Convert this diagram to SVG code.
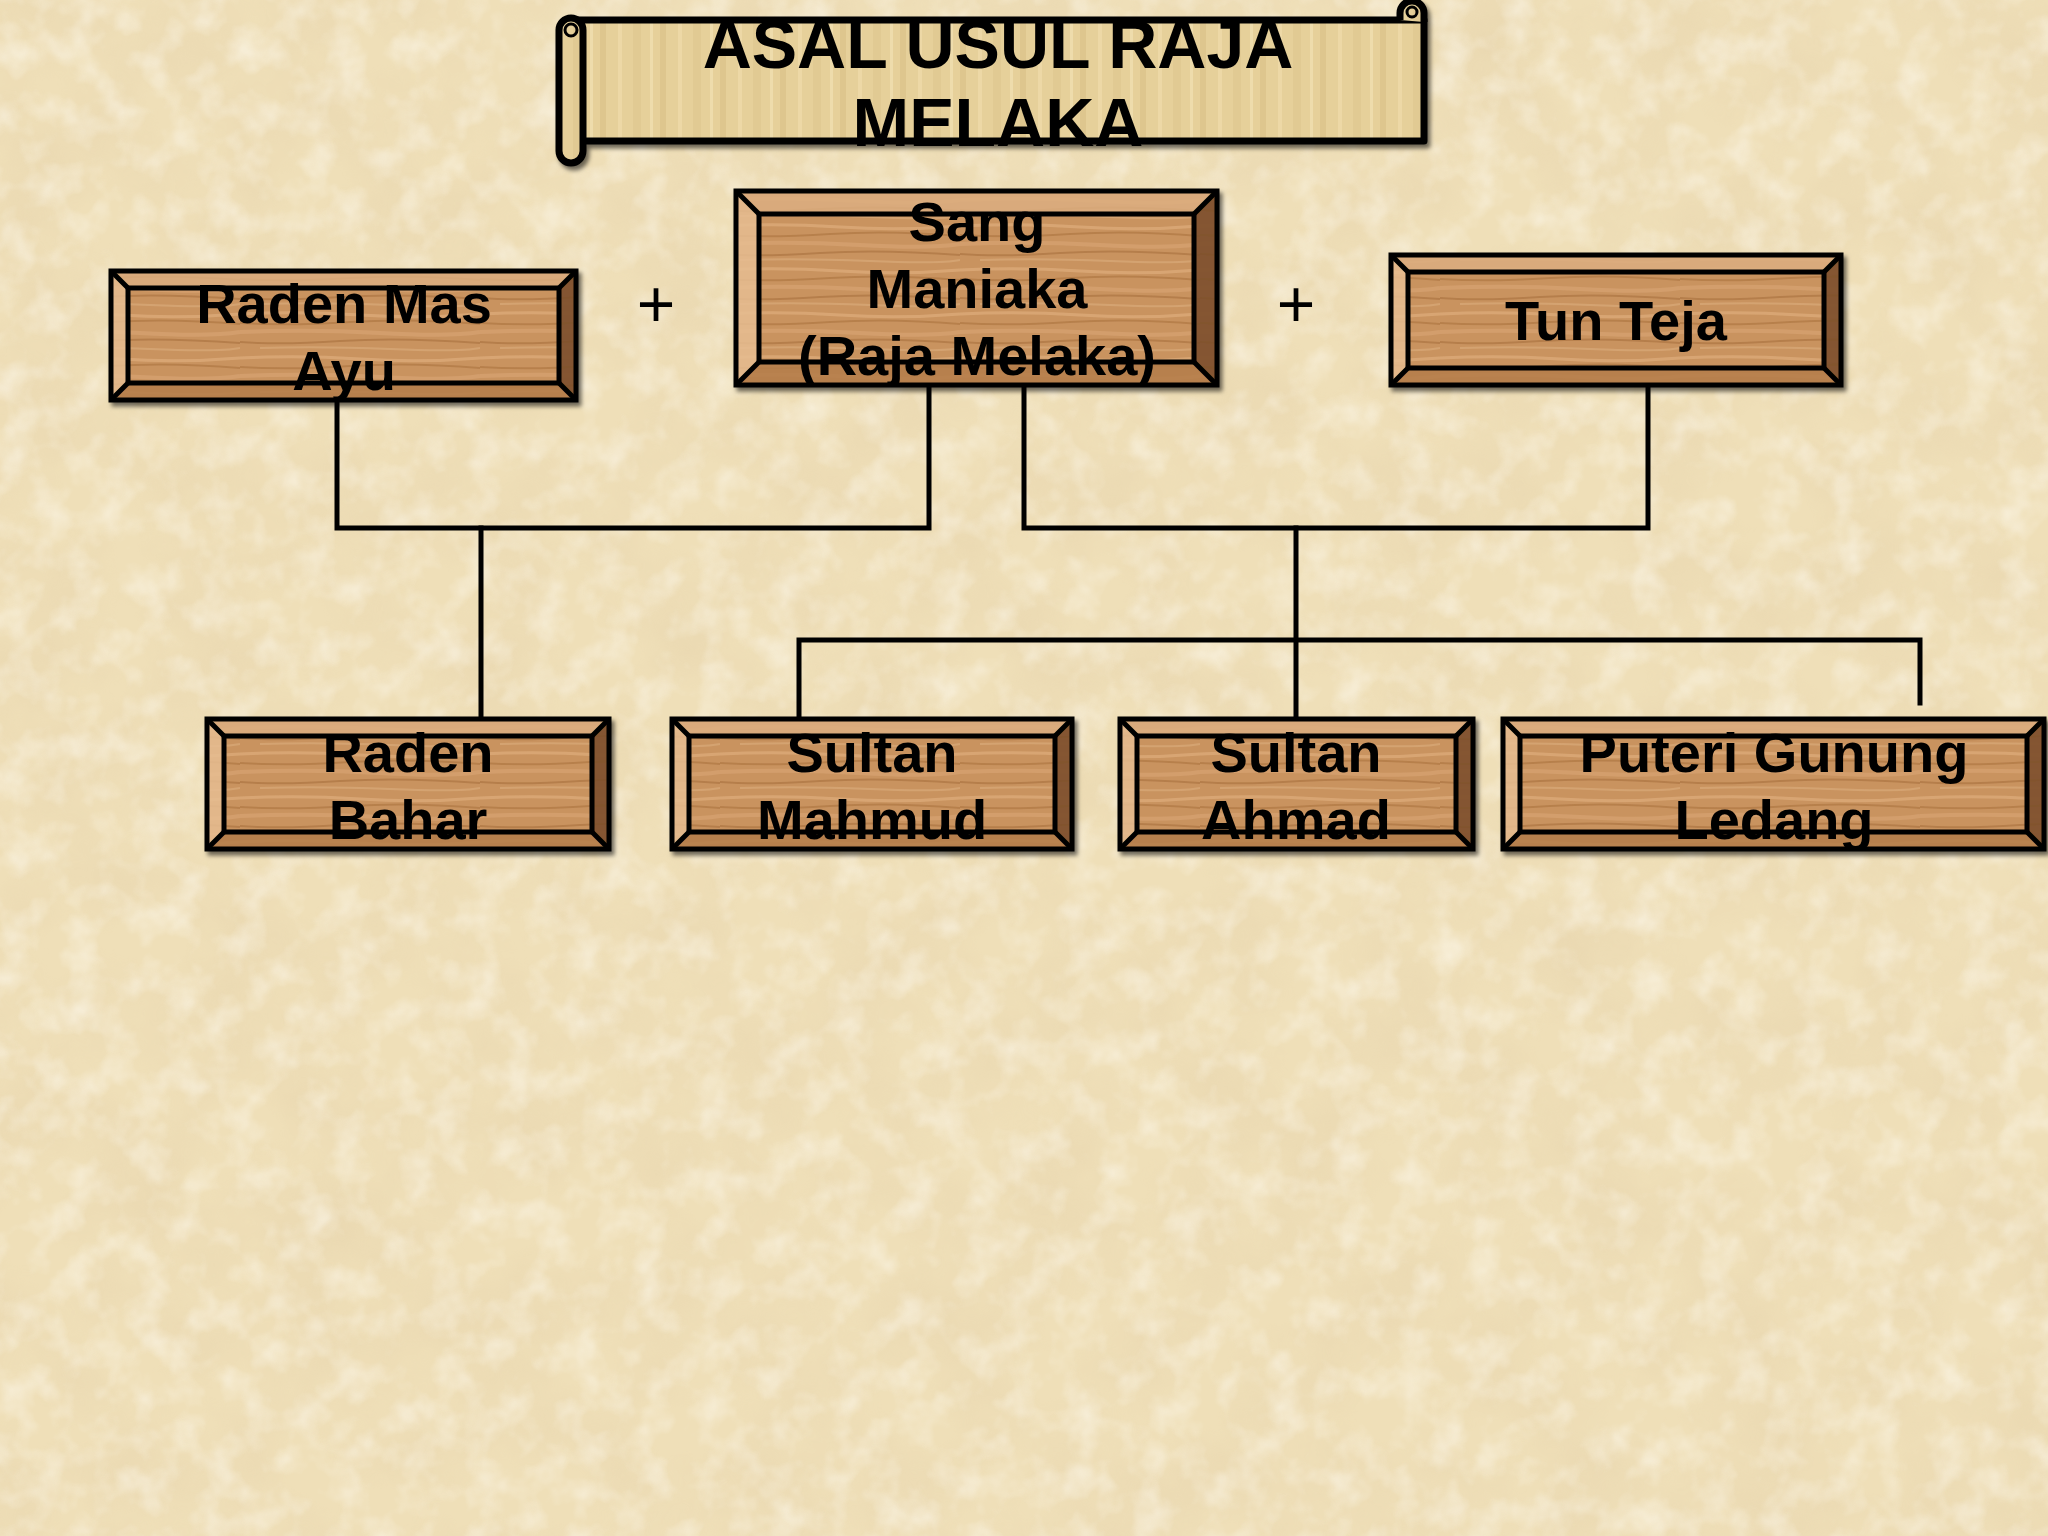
<svg xmlns="http://www.w3.org/2000/svg" width="2048" height="1536" viewBox="0 0 2048 1536">
<defs>
  <filter id="paper" x="0" y="0" width="100%" height="100%">
    <feTurbulence type="fractalNoise" baseFrequency="0.011" numOctaves="4" seed="7" result="n"/>
    <feColorMatrix in="n" type="matrix" values="0 0 0 0 0.80  0 0 0 0 0.66  0 0 0 0 0.42  1.8 0 0 0 -0.62"/>
  </filter>
  <filter id="paper2" x="0" y="0" width="100%" height="100%">
    <feTurbulence type="fractalNoise" baseFrequency="0.03" numOctaves="3" seed="2" result="n"/>
    <feColorMatrix in="n" type="matrix" values="0 0 0 0 1  0 0 0 0 0.98  0 0 0 0 0.92  2 0 0 0 -0.85"/>
  </filter>
  <filter id="shadow" x="-5%" y="-10%" width="110%" height="125%">
    <feDropShadow dx="3" dy="4" stdDeviation="2" flood-color="#000" flood-opacity="0.55"/>
  </filter>
  <pattern id="wood" width="240" height="44" patternUnits="userSpaceOnUse">
    <rect width="240" height="44" fill="#c9935f"/>
    <path d="M0 6 Q60 3 120 7 T240 6" stroke="#dcaa78" stroke-width="3" fill="none" opacity="0.8"/>
    <path d="M0 15 Q50 18 110 14 T240 16" stroke="#b07844" stroke-width="2" fill="none" opacity="0.7"/>
    <path d="M0 24 Q70 21 140 25 T240 24" stroke="#d7a372" stroke-width="4" fill="none" opacity="0.7"/>
    <path d="M0 34 Q40 37 100 33 T240 35" stroke="#a96f3d" stroke-width="2" fill="none" opacity="0.6"/>
    <path d="M20 40 Q80 38 150 41 T240 40" stroke="#dcae7d" stroke-width="2" fill="none" opacity="0.6"/>
  </pattern>
  <pattern id="papyrus" width="60" height="121" patternUnits="userSpaceOnUse">
    <rect width="60" height="121" fill="#e6d09a"/>
    <rect x="0" width="6" height="121" fill="#d9bf85" opacity="0.6"/>
    <rect x="18" width="4" height="121" fill="#f0dcab" opacity="0.7"/>
    <rect x="33" width="8" height="121" fill="#dcc48c" opacity="0.5"/>
    <rect x="50" width="3" height="121" fill="#f2e1b4" opacity="0.7"/>
  </pattern>
  <style>
    .face{fill:url(#wood);}
    .bt{fill:#dcae80;opacity:0.85;}
    .bl{fill:#e6bd92;opacity:0.85;}
    .bb{fill:#b47c4a;opacity:0.85;}
    .br{fill:#7c4f2b;opacity:0.9;}
    .edge{fill:none;stroke:#000;stroke-width:5;stroke-linejoin:miter;}
    .lbl{font-family:"Liberation Sans",Arial,Helvetica,sans-serif;font-weight:bold;font-size:56px;fill:#000;text-anchor:middle;}
    .plus{font-family:"Liberation Sans",Arial,Helvetica,sans-serif;font-size:66px;fill:#000;text-anchor:middle;}
    .title{font-family:"Liberation Sans",Arial,Helvetica,sans-serif;font-weight:bold;font-size:68px;fill:#000;text-anchor:middle;}
    .conn{fill:none;stroke:#000;stroke-width:5;stroke-linecap:square;}
    .scroll{fill:url(#papyrus);stroke:#000;stroke-width:7;stroke-linejoin:round;}
  </style>
</defs>

<!-- background -->
<rect width="2048" height="1536" fill="#efdfb8"/>
<rect width="2048" height="1536" filter="url(#paper)" opacity="0.55"/>
<rect width="2048" height="1536" filter="url(#paper2)" opacity="0.5"/>

<!-- title scroll -->
<g id="title">
  <g filter="url(#shadow)">
    <rect class="scroll" x="572" y="20" width="852" height="121"/>
    <path class="scroll" d="M1400 20 L1400 13 A12 12 0 0 1 1424 13 L1424 22"/>
    <circle cx="1412" cy="12" r="5" fill="none" stroke="#000" stroke-width="3"/>
    <rect class="scroll" x="559" y="18" width="24" height="145" rx="12"/>
    <circle cx="571" cy="30" r="6" fill="none" stroke="#000" stroke-width="3"/>
  </g>
  <text class="title" x="998" y="68">ASAL USUL RAJA</text>
  <text class="title" x="998" y="146">MELAKA</text>
</g>

<!-- connectors -->
<g id="connectors">
  <path class="conn" d="M337 400 V528 H929 V385"/>
  <path class="conn" d="M481 528 V718"/>
  <path class="conn" d="M1024 385 V528 H1648 V385"/>
  <path class="conn" d="M1296 528 V718"/>
  <path class="conn" d="M799 718 V640 H1920 V703"/>
</g>

<!-- nodes -->
<g id="raden-mas-ayu" filter="url(#shadow)">
  <rect class="face" x="111" y="271" width="465" height="129"/>
  <polygon class="bt" points="111,271 576,271 559,288 128,288"/>
  <polygon class="bl" points="111,271 128,288 128,383 111,400"/>
  <polygon class="bb" points="111,400 576,400 559,383 128,383"/>
  <polygon class="br" points="576,271 576,400 559,383 559,288"/>
  <rect class="edge" x="128" y="288" width="431" height="95"/>
  <path class="edge" d="M111 271 L128 288 M576 271 L559 288 M111 400 L128 383 M576 400 L559 383"/>
  <rect class="edge" x="111" y="271" width="465" height="129"/>
</g>
<text class="lbl" x="344" y="323">Raden Mas</text>
<text class="lbl" x="344" y="390">Ayu</text>

<text class="plus" x="656" y="327">+</text>

<g id="sang-maniaka" filter="url(#shadow)">
  <rect class="face" x="736" y="191" width="481" height="194"/>
  <polygon class="bt" points="736,191 1217,191 1194,214 759,214"/>
  <polygon class="bl" points="736,191 759,214 759,362 736,385"/>
  <polygon class="bb" points="736,385 1217,385 1194,362 759,362"/>
  <polygon class="br" points="1217,191 1217,385 1194,362 1194,214"/>
  <rect class="edge" x="759" y="214" width="435" height="148"/>
  <path class="edge" d="M736 191 L759 214 M1217 191 L1194 214 M736 385 L759 362 M1217 385 L1194 362"/>
  <rect class="edge" x="736" y="191" width="481" height="194"/>
</g>
<text class="lbl" x="977" y="241">Sang</text>
<text class="lbl" x="977" y="308">Maniaka</text>
<text class="lbl" x="977" y="375">(Raja Melaka)</text>

<text class="plus" x="1296" y="327">+</text>

<g id="tun-teja" filter="url(#shadow)">
  <rect class="face" x="1391" y="255" width="450" height="130"/>
  <polygon class="bt" points="1391,255 1841,255 1824,272 1408,272"/>
  <polygon class="bl" points="1391,255 1408,272 1408,368 1391,385"/>
  <polygon class="bb" points="1391,385 1841,385 1824,368 1408,368"/>
  <polygon class="br" points="1841,255 1841,385 1824,368 1824,272"/>
  <rect class="edge" x="1408" y="272" width="416" height="96"/>
  <path class="edge" d="M1391 255 L1408 272 M1841 255 L1824 272 M1391 385 L1408 368 M1841 385 L1824 368"/>
  <rect class="edge" x="1391" y="255" width="450" height="130"/>
</g>
<text class="lbl" x="1616" y="340">Tun Teja</text>

<g id="raden-bahar" filter="url(#shadow)">
  <rect class="face" x="207" y="719" width="402" height="130"/>
  <polygon class="bt" points="207,719 609,719 592,736 224,736"/>
  <polygon class="bl" points="207,719 224,736 224,832 207,849"/>
  <polygon class="bb" points="207,849 609,849 592,832 224,832"/>
  <polygon class="br" points="609,719 609,849 592,832 592,736"/>
  <rect class="edge" x="224" y="736" width="368" height="96"/>
  <path class="edge" d="M207 719 L224 736 M609 719 L592 736 M207 849 L224 832 M609 849 L592 832"/>
  <rect class="edge" x="207" y="719" width="402" height="130"/>
</g>
<text class="lbl" x="408" y="772">Raden</text>
<text class="lbl" x="408" y="839">Bahar</text>

<g id="sultan-mahmud" filter="url(#shadow)">
  <rect class="face" x="672" y="719" width="400" height="130"/>
  <polygon class="bt" points="672,719 1072,719 1055,736 689,736"/>
  <polygon class="bl" points="672,719 689,736 689,832 672,849"/>
  <polygon class="bb" points="672,849 1072,849 1055,832 689,832"/>
  <polygon class="br" points="1072,719 1072,849 1055,832 1055,736"/>
  <rect class="edge" x="689" y="736" width="366" height="96"/>
  <path class="edge" d="M672 719 L689 736 M1072 719 L1055 736 M672 849 L689 832 M1072 849 L1055 832"/>
  <rect class="edge" x="672" y="719" width="400" height="130"/>
</g>
<text class="lbl" x="872" y="772">Sultan</text>
<text class="lbl" x="872" y="839">Mahmud</text>

<g id="sultan-ahmad" filter="url(#shadow)">
  <rect class="face" x="1120" y="719" width="353" height="130"/>
  <polygon class="bt" points="1120,719 1473,719 1456,736 1137,736"/>
  <polygon class="bl" points="1120,719 1137,736 1137,832 1120,849"/>
  <polygon class="bb" points="1120,849 1473,849 1456,832 1137,832"/>
  <polygon class="br" points="1473,719 1473,849 1456,832 1456,736"/>
  <rect class="edge" x="1137" y="736" width="319" height="96"/>
  <path class="edge" d="M1120 719 L1137 736 M1473 719 L1456 736 M1120 849 L1137 832 M1473 849 L1456 832"/>
  <rect class="edge" x="1120" y="719" width="353" height="130"/>
</g>
<text class="lbl" x="1296" y="772">Sultan</text>
<text class="lbl" x="1296" y="839">Ahmad</text>

<g id="puteri-gunung-ledang" filter="url(#shadow)">
  <rect class="face" x="1503" y="719" width="541" height="130"/>
  <polygon class="bt" points="1503,719 2044,719 2027,736 1520,736"/>
  <polygon class="bl" points="1503,719 1520,736 1520,832 1503,849"/>
  <polygon class="bb" points="1503,849 2044,849 2027,832 1520,832"/>
  <polygon class="br" points="2044,719 2044,849 2027,832 2027,736"/>
  <rect class="edge" x="1520" y="736" width="507" height="96"/>
  <path class="edge" d="M1503 719 L1520 736 M2044 719 L2027 736 M1503 849 L1520 832 M2044 849 L2027 832"/>
  <rect class="edge" x="1503" y="719" width="541" height="130"/>
</g>
<text class="lbl" x="1774" y="772">Puteri Gunung</text>
<text class="lbl" x="1774" y="839">Ledang</text>
</svg>
